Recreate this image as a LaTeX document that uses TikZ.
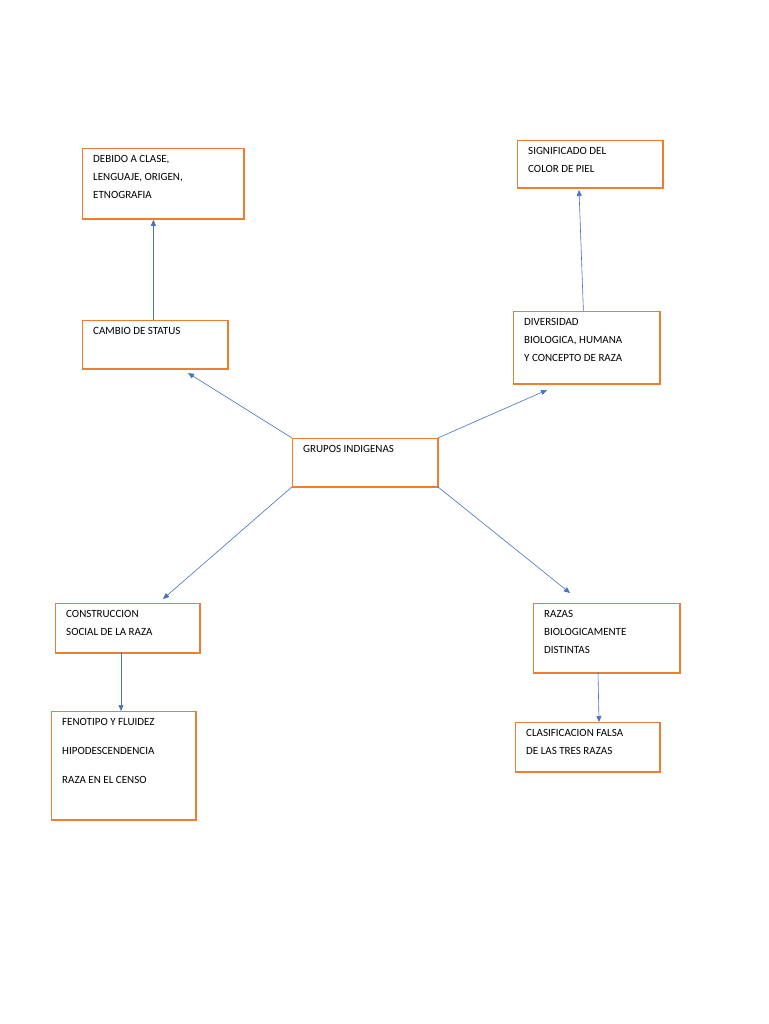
\documentclass[tikz,border=0pt]{standalone}
\usepackage{fontspec}
\setmainfont{Carlito}
\usetikzlibrary{arrows.meta}
\definecolor{org}{RGB}{237,125,49}
\definecolor{blu}{RGB}{68,114,196}
\tikzset{
  bx/.style={draw=org, line width=0.8pt, anchor=north west, inner sep=0pt, fill=white},
  tx/.style={anchor=north west, align=left, font=\fontsize{11}{18}\selectfont, inner sep=0pt},
  ar/.style={draw=blu, line width=0.6pt, -{Triangle[length=6pt,width=5pt]}}
}
\newcommand{\mybox}[6]{% name, x1,y1,x2,y2,text
  \node[bx, minimum width=#4pt-#2pt, minimum height=#5pt-#3pt] (#1) at (#2pt,-#3pt) {};
  \draw[org, line width=1.6pt] ([xshift=0.4pt]#1.north east) -- ([xshift=0.4pt,yshift=-0.4pt]#1.south east) -- ([yshift=-0.4pt]#1.south west);
  \node[tx] at (#2pt+11pt,-#3pt-7pt) {#6};
}
\begin{document}
\begin{tikzpicture}[x=1pt,y=1pt]
\useasboundingbox (0,0) rectangle (768,-1024);
\fill[white] (0,0) rectangle (768,-1024);
\mybox{debido}{82}{148}{243}{218}{DEBIDO A CLASE,\\LENGUAJE, ORIGEN,\\ETNOGRAFIA}
\mybox{signif}{517}{140}{662}{187}{SIGNIFICADO DEL\\COLOR DE PIEL}
\mybox{cambio}{82}{320}{227}{368}{CAMBIO DE STATUS}
\mybox{divers}{513}{311}{659}{383}{DIVERSIDAD\\BIOLOGICA, HUMANA\\Y CONCEPTO DE RAZA}
\mybox{grupos}{292}{438}{437}{486}{GRUPOS INDIGENAS}
\mybox{constr}{55}{603}{199}{652}{CONSTRUCCION\\SOCIAL DE LA RAZA}
\mybox{razas}{533}{603}{679}{672}{RAZAS\\BIOLOGICAMENTE\\DISTINTAS}
\node[bx, minimum width=144pt, minimum height=108pt] (feno) at (51pt,-711pt) {};
\draw[org, line width=1.6pt] ([xshift=0.4pt]feno.north east) -- ([xshift=0.4pt,yshift=-0.4pt]feno.south east) -- ([yshift=-0.4pt]feno.south west);
\node[tx, font=\fontsize{11}{29}\selectfont] at (62pt,-718pt) {FENOTIPO Y FLUIDEZ\\HIPODESCENDENCIA\\RAZA EN EL CENSO};
\mybox{clasif}{515}{722}{659}{771}{CLASIFICACION FALSA\\DE LAS TRES RAZAS}

\coordinate (c1) at (188,-373);
\coordinate (c2) at (547,-390);
\coordinate (c3) at (163,-599);
\coordinate (c4) at (570,-593);
\draw[ar] ([xshift=-1.5pt]cambio.north) -- ([xshift=-1.5pt,yshift=-1pt]cambio.north |- debido.south);
\draw[ar] ([xshift=-3pt]divers.north) -- (579,-190);
\draw[ar] (grupos.north west) -- (c1);
\draw[ar] (grupos.north east) -- (c2);
\draw[ar] (grupos.south west) -- (c3);
\draw[ar] (grupos.south east) -- (c4);
\draw[ar] (121,-652) -- (121,-711);
\draw[ar] (598,-672) -- (599,-722);
\end{tikzpicture}
\end{document}
